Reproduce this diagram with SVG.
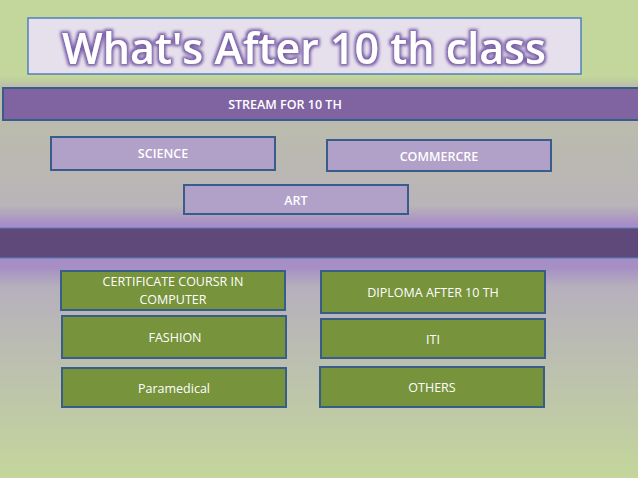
<svg xmlns="http://www.w3.org/2000/svg" width="638" height="478" viewBox="0 0 638 478">
<defs>
<linearGradient id="bg" x1="0" y1="0" x2="0" y2="1">
<stop offset="0" stop-color="#c3d69b"/>
<stop offset="0.16" stop-color="#c3d69b"/>
<stop offset="0.18" stop-color="#bcbfa8"/>
<stop offset="0.43" stop-color="#b9b4b8"/>
<stop offset="0.47" stop-color="#a78cc8"/>
<stop offset="0.56" stop-color="#a68fc4"/>
<stop offset="0.6" stop-color="#b6b0bd"/>
<stop offset="1" stop-color="#c4d69b"/>
</linearGradient>
<filter id="glow" x="-10%" y="-30%" width="120%" height="160%">
<feMorphology in="SourceAlpha" operator="dilate" radius="2" result="d"/>
<feGaussianBlur in="d" stdDeviation="1.5" result="b"/>
<feFlood flood-color="#7a5ea8"/>
<feComposite in2="b" operator="in" result="g"/>
<feMerge><feMergeNode in="g"/><feMergeNode in="SourceGraphic"/></feMerge>
</filter>
<style>
.t{font-family:"Open Sans","Liberation Sans",sans-serif;fill:#fff;font-size:12.5px;text-anchor:middle}
.lav{fill:#b1a0c7;stroke:#385d8a;stroke-width:2}
.grn{fill:#77933c;stroke:#385d8a;stroke-width:2}
</style>
</defs>
<rect width="638" height="478" fill="url(#bg)"/>
<g id="title">
<rect x="28" y="18" width="553" height="56" fill="#e6e0ec" stroke="#4f81bd" stroke-width="1.5"/>
<text x="304" y="64" filter="url(#glow)" style="font-family:'Open Sans','Liberation Sans',sans-serif;font-size:43px;fill:#fff;text-anchor:middle;font-weight:600">What's After 10 th class</text>
</g>
<g id="stream">
<rect x="3" y="88" width="640" height="32" fill="#8064a2" stroke="#385d8a" stroke-width="2"/>
<text class="t" x="285" y="109" font-weight="600">STREAM FOR 10 TH</text>
</g>
<g id="science"><rect class="lav" x="51" y="137" width="224" height="33"/><text class="t" x="163" y="158" font-weight="600">SCIENCE</text></g>
<g id="commerce"><rect class="lav" x="327" y="140" width="224" height="31"/><text class="t" x="439" y="161" font-weight="600">COMMERCRE</text></g>
<g id="art"><rect class="lav" x="184" y="185" width="224" height="29"/><text class="t" x="296" y="205" font-weight="600">ART</text></g>
<g id="bar"><rect x="-2" y="228" width="642" height="30" fill="#5f497a" stroke="#4f81bd" stroke-width="1"/></g>
<g id="cert"><rect class="grn" x="61" y="271" width="224" height="39"/><text class="t" x="173" y="286">CERTIFICATE COURSR IN</text><text class="t" x="173" y="304">COMPUTER</text></g>
<g id="diploma"><rect class="grn" x="321" y="271" width="224" height="42"/><text class="t" x="433" y="297">DIPLOMA AFTER 10 TH</text></g>
<g id="fashion"><rect class="grn" x="62" y="316" width="224" height="42"/><text class="t" x="175" y="342">FASHION</text></g>
<g id="iti"><rect class="grn" x="321" y="319" width="224" height="39"/><text class="t" x="433" y="344">ITI</text></g>
<g id="paramedical"><rect class="grn" x="62" y="368" width="224" height="39"/><text class="t" x="174" y="393">Paramedical</text></g>
<g id="others"><rect class="grn" x="320" y="367" width="224" height="40"/><text class="t" x="432" y="392">OTHERS</text></g>
<g id="connectors"/>
</svg>
